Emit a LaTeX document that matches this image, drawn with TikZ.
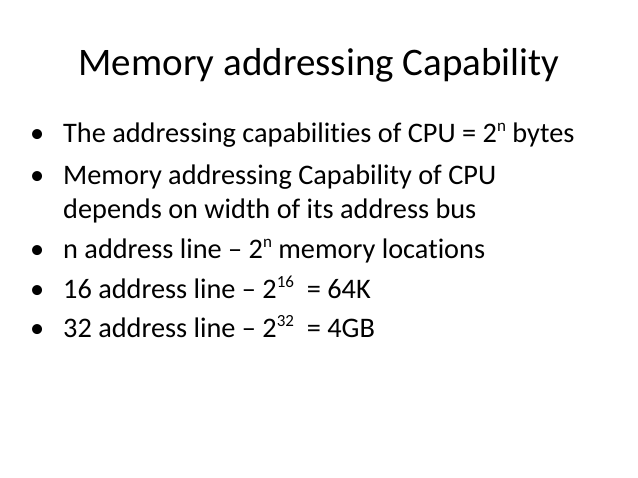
\documentclass[tikz,border=0pt]{standalone}
\usepackage{fontspec}
\setmainfont[Ligatures=NoCommon]{Carlito}
\newcommand{\supx}[1]{\raisebox{0.42em}{\fontsize{17}{17}\selectfont #1}}
\begin{document}
\begin{tikzpicture}[x=1pt,y=-1pt,
  bodytext/.style={anchor=base west,inner sep=0pt,font=\fontsize{28.3}{28.3}\selectfont},
  bul/.style={anchor=base west,inner sep=0pt,font=\fontsize{28.3}{28.3}\selectfont}]
\useasboundingbox (0,0) rectangle (638,478);
\node[anchor=base,inner sep=0pt,font=\fontsize{39}{39}\selectfont] (title) at (319,76) {Memory addressing Capability};
\node[bul] (b1) at (30,143) {•};
\node[bodytext] (t1) at (63,143) {The addressing capabilities of CPU = 2\supx{n} bytes};
\node[bul] (b2) at (30,185) {•};
\node[bodytext] (t2) at (63,185) {Memory addressing Capability of CPU};
\node[bodytext] (t2b) at (63,219) {depends on width of its address bus};
\node[bul] (b3) at (30,259) {•};
\node[bodytext] (t3) at (63,259) {n address line – 2\supx{n} memory locations};
\node[bul] (b4) at (30,299) {•};
\node[bodytext] (t4) at (63,299) {16 address line – 2\supx{16}\ \ = 64K};
\node[bul] (b5) at (30,338) {•};
\node[bodytext] (t5) at (63,338) {32 address line – 2\supx{32}\ \ = 4GB};
\end{tikzpicture}
\end{document}
